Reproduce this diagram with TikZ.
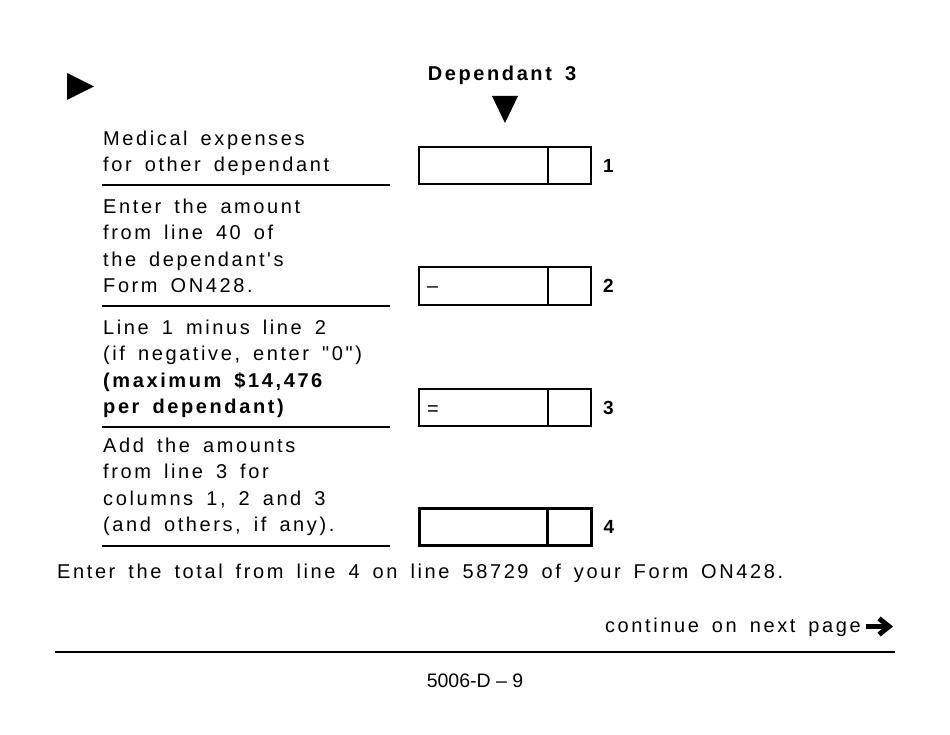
\documentclass[tikz,border=0pt]{standalone}
\usepackage{fontspec}
\setmainfont{Liberation Sans}[LetterSpace=13,WordSpace=1.6,Ligatures=TeXOff]
\newfontfamily\plainfont{Liberation Sans}
\begin{document}
\begin{tikzpicture}[x=1pt,y=-1pt,
  txt/.style={anchor=base west,inner sep=0,font=\fontsize{20}{24}\selectfont},
  btxt/.style={txt,font=\fontsize{20}{24}\selectfont\bfseries},
  numlab/.style={anchor=west,inner sep=0,font=\fontsize{19}{24}\selectfont\bfseries},
  box/.style={draw,line width=2pt,minimum width=172pt,minimum height=37pt,inner sep=0},
  sep/.style={line width=1.6pt},
  tri/.style={fill=black,draw=none}]
\useasboundingbox (0,0) rectangle (950,735);
% markers
\fill[tri] (67,73) -- (67,100) -- (94,86.5) -- cycle;
\node[btxt,anchor=base] (head) at (502,81) {Dependant 3};
\fill[tri] (492,96) -- (518,96) -- (505,123) -- cycle;
% boxes
\node[box] (b1) at (505,166) {};
\node[box] (b2) at (505,286) {};
\node[box] (b3) at (505,407.5) {};
\node[box,line width=3pt] (b4) at (505,526.5) {};
\foreach \b in {b1,b2,b3}{\draw[line width=1.5pt] ([xshift=130pt]\b.north west) -- ([xshift=130pt]\b.south west);}
\draw[line width=3pt] ([xshift=130pt]b4.north west) -- ([xshift=130pt]b4.south west);
\node[txt] (minus) at (427,293) {–};
\node[txt] (equal) at (427,415) {=};
\node[numlab] (n1) at ([xshift=11pt]b1.east) {1};
\node[numlab] (n2) at ([xshift=11pt]b2.east) {2};
\node[numlab] (n3) at ([xshift=11pt]b3.east) {3};
\node[numlab] (n4) at ([xshift=11pt]b4.east) {4};
% left texts
\node[txt] (t11) at (103,146) {Medical expenses};
\node[txt] (t12) at (103,172) {for other dependant};
\draw[sep] (102,185) -- (390,185);
\node[txt] (t21) at (103,214) {Enter the amount};
\node[txt] (t22) at (103,240) {from line 40 of};
\node[txt] (t23) at (103,267) {the dependant's};
\node[txt] (t24) at (103,293) {Form ON428.};
\draw[sep] (102,306) -- (390,306);
\node[txt] (t31) at (103,334) {Line 1 minus line 2};
\node[txt] (t32) at (103,360) {(if negative, enter "0")};
\node[btxt] (t33) at (103,387) {(maximum \$14,476};
\node[btxt] (t34) at (103,413) {per dependant)};
\draw[sep] (102,427) -- (390,427);
\node[txt] (t41) at (103,452) {Add the amounts};
\node[txt] (t42) at (103,478) {from line 3 for};
\node[txt] (t43) at (103,505) {columns 1, 2 and 3};
\node[txt] (t44) at (103,531) {(and others, if any).};
\draw[line width=1.2pt] (102,546) -- (390,546);
% bottom
\node[txt] (tot) at (57,578) {Enter the total from line 4 on line 58729 of your Form ON428.};
\node[txt,anchor=base east] (cont) at (861,632) {continue on next page};
\draw[line width=4.5pt] (866,626.5) -- (887,626.5);
\draw[line width=5pt,miter limit=10] (879,618.5) -- (889,626.5) -- (879,634.5);
\draw[line width=2pt] (55,652) -- (895,652);
\node[anchor=base,inner sep=0,font=\plainfont\fontsize{19.5}{22}\selectfont] (pg) at (475,687) {5006-D – 9};
\end{tikzpicture}
\end{document}
